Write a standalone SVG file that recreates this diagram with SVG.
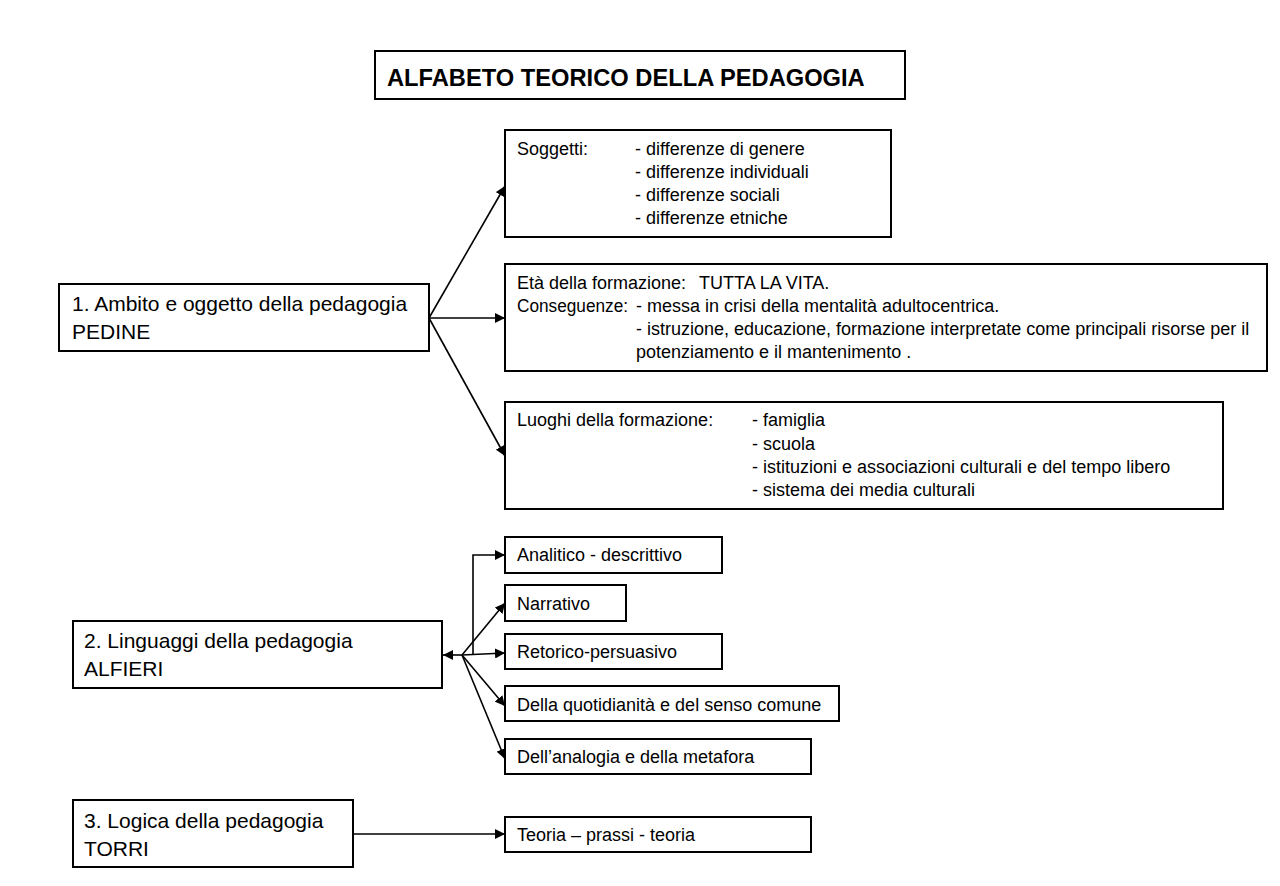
<svg xmlns="http://www.w3.org/2000/svg" width="1280" height="886" viewBox="0 0 1280 886">
<style>
.box{fill:#fff;stroke:#000;stroke-width:2}
.t{font-family:"Liberation Sans",Arial,sans-serif;font-size:18px;fill:#000}
.m{font-family:"Liberation Sans",Arial,sans-serif;font-size:21px;fill:#000}
.h{font-family:"Liberation Sans",Arial,sans-serif;font-size:23.7px;font-weight:bold;fill:#000}
.c{fill:none;stroke:#000;stroke-width:1.6}
</style>
<defs>
<marker id="ah" viewBox="0 0 10 10" refX="10" refY="5" markerWidth="10" markerHeight="10" markerUnits="userSpaceOnUse" orient="auto-start-reverse">
<path d="M0,0 L10,5 L0,10 z" fill="#000"/>
</marker>
</defs>
<rect width="1280" height="886" fill="#fff"/>

<g id="connectors">
<line class="c" x1="429" y1="318" x2="505" y2="186" marker-end="url(#ah)"/>
<line class="c" x1="429" y1="318" x2="505" y2="318" marker-end="url(#ah)"/>
<line class="c" x1="429" y1="318" x2="505" y2="456" marker-end="url(#ah)"/>
<line class="c" x1="462" y1="655" x2="443" y2="655" marker-end="url(#ah)"/>
<polyline class="c" points="473,655 473,555 505,555" marker-end="url(#ah)"/>
<line class="c" x1="462" y1="655" x2="505" y2="603" marker-end="url(#ah)"/>
<line class="c" x1="462" y1="655" x2="505" y2="653" marker-end="url(#ah)"/>
<line class="c" x1="462" y1="655" x2="505" y2="706" marker-end="url(#ah)"/>
<line class="c" x1="462" y1="655" x2="505" y2="759" marker-end="url(#ah)"/>
<line class="c" x1="353" y1="834" x2="505" y2="834" marker-end="url(#ah)"/>
</g>

<g id="title">
<rect class="box" x="375" y="51" width="530" height="48"/>
<text class="h" x="387" y="86">ALFABETO TEORICO DELLA PEDAGOGIA</text>
</g>

<g id="n1">
<rect class="box" x="59" y="284" width="370" height="67"/>
<text class="m" x="72" y="311">1. Ambito e oggetto della pedagogia</text>
<text class="m" x="72" y="339">PEDINE</text>
</g>

<g id="soggetti">
<rect class="box" x="505" y="130" width="386" height="107"/>
<text class="t" x="517" y="155">Soggetti:</text>
<text class="t" x="635" y="155">- differenze di genere</text>
<text class="t" x="635" y="178">- differenze individuali</text>
<text class="t" x="635" y="201">- differenze sociali</text>
<text class="t" x="635" y="224">- differenze etniche</text>
</g>

<g id="eta">
<rect class="box" x="505" y="264" width="762" height="107"/>
<text class="t" x="517" y="289">Età della formazione:</text>
<text class="t" x="699" y="289">TUTTA LA VITA.</text>
<text class="t" x="517" y="312" textLength="111" lengthAdjust="spacingAndGlyphs">Conseguenze:</text>
<text class="t" x="636" y="312">- messa in crisi della mentalità adultocentrica.</text>
<text class="t" x="636" y="335">- istruzione, educazione, formazione interpretate come principali risorse per il</text>
<text class="t" x="636" y="358">potenziamento e il mantenimento .</text>
</g>

<g id="luoghi">
<rect class="box" x="505" y="402" width="718" height="107"/>
<text class="t" x="517" y="426">Luoghi della formazione:</text>
<text class="t" x="752" y="426">- famiglia</text>
<text class="t" x="752" y="450">- scuola</text>
<text class="t" x="752" y="473">- istituzioni e associazioni culturali e del tempo libero</text>
<text class="t" x="752" y="496">- sistema dei media culturali</text>
</g>

<g id="n2">
<rect class="box" x="73" y="621" width="369" height="67"/>
<text class="m" x="84" y="648">2. Linguaggi della pedagogia</text>
<text class="m" x="84" y="676">ALFIERI</text>
</g>

<g id="analitico">
<rect class="box" x="505" y="537" width="217" height="36"/>
<text class="t" x="517" y="561">Analitico - descrittivo</text>
</g>
<g id="narrativo">
<rect class="box" x="505" y="585" width="121" height="36"/>
<text class="t" x="517" y="610">Narrativo</text>
</g>
<g id="retorico">
<rect class="box" x="505" y="634" width="217" height="35"/>
<text class="t" x="517" y="658">Retorico-persuasivo</text>
</g>
<g id="quotidianita">
<rect class="box" x="505" y="686" width="334" height="35"/>
<text class="t" x="517" y="711">Della quotidianità e del senso comune</text>
</g>
<g id="analogia">
<rect class="box" x="505" y="739" width="306" height="35"/>
<text class="t" x="517" y="763">Dell’analogia e della metafora</text>
</g>

<g id="n3">
<rect class="box" x="73" y="800" width="280" height="67"/>
<text class="m" x="84" y="828">3. Logica della pedagogia</text>
<text class="m" x="84" y="856">TORRI</text>
</g>
<g id="teoria">
<rect class="box" x="505" y="817" width="306" height="35"/>
<text class="t" x="517" y="841">Teoria – prassi - teoria</text>
</g>
</svg>
